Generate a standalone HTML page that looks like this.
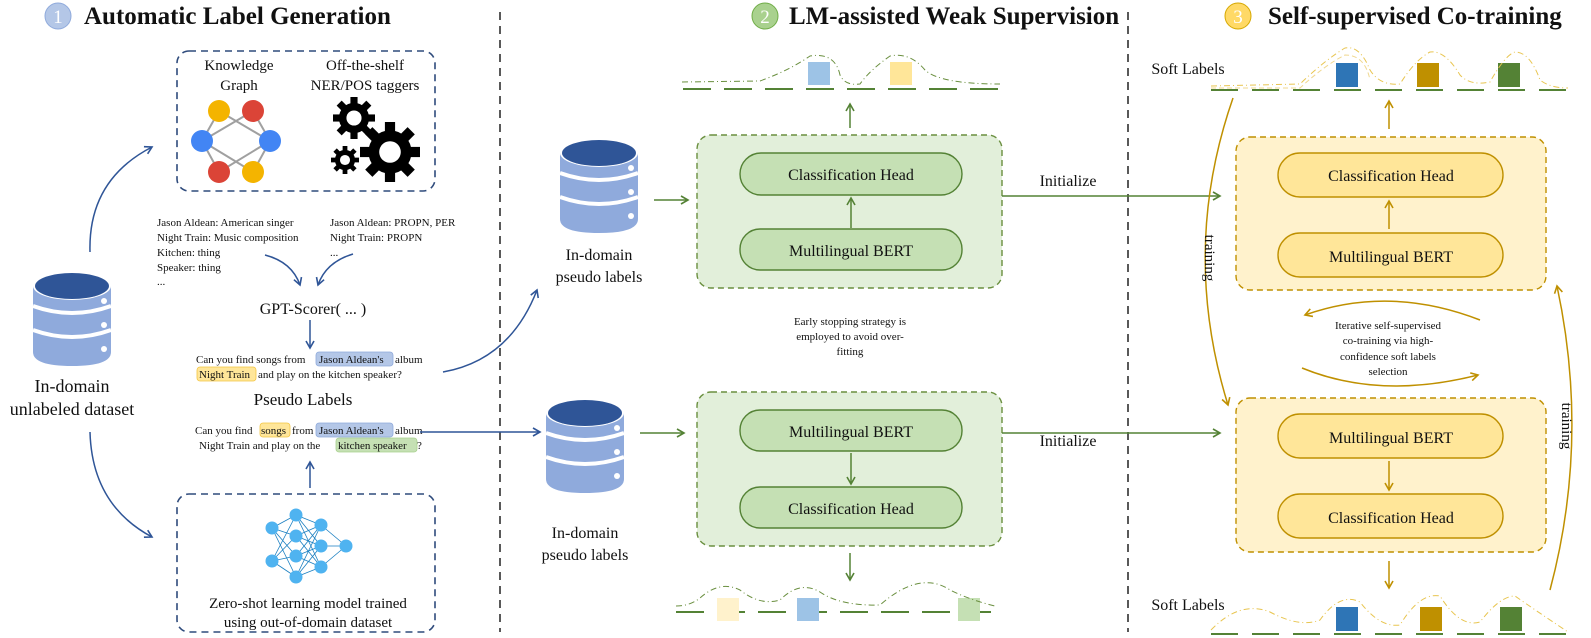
<!DOCTYPE html>
<html><head><meta charset="utf-8"><style>
html,body{margin:0;padding:0;background:#fff}
svg{display:block}
text{font-family:"Liberation Serif","DejaVu Serif",serif;fill:#111}
.t{font-weight:bold;font-size:25px}
.s{font-size:11px}
.m{font-size:16px}
</style></head><body>
<svg width="1591" height="638" viewBox="0 0 1591 638" xmlns="http://www.w3.org/2000/svg">
<defs>
<marker id="ab" markerWidth="10" markerHeight="10" refX="8" refY="5" orient="auto" markerUnits="userSpaceOnUse"><path d="M1,1 L8,5 L1,9" fill="none" stroke="#2f5597" stroke-width="1.6"/></marker>
<marker id="ag" markerWidth="10" markerHeight="10" refX="8" refY="5" orient="auto" markerUnits="userSpaceOnUse"><path d="M1,1 L8,5 L1,9" fill="none" stroke="#548235" stroke-width="1.6"/></marker>
<marker id="ay" markerWidth="10" markerHeight="10" refX="8" refY="5" orient="auto" markerUnits="userSpaceOnUse"><path d="M1,1 L8,5 L1,9" fill="none" stroke="#bf9000" stroke-width="1.6"/></marker>
<g id="db">
<path d="M-39,0 V66 Q-39,80 0,80 Q39,80 39,66 V0 Z" fill="#8faadc"/>
<path d="M-39,20 Q0,34 39,20 M-39,44 Q0,58 39,44" stroke="#fff" stroke-width="4" fill="none"/>
<ellipse cx="0" cy="0" rx="39" ry="14" fill="#fff"/>
<ellipse cx="0" cy="0" rx="37" ry="13" fill="#2f5597"/>
<circle cx="32" cy="15" r="3" fill="#fff"/><circle cx="32" cy="39" r="3" fill="#fff"/><circle cx="32" cy="63" r="3" fill="#fff"/>
</g>
<g id="gear">
<circle r="0.72" fill="#000"/>
<g fill="#000"><rect x="-0.17" y="-1" width="0.34" height="2"/><rect x="-0.17" y="-1" width="0.34" height="2" transform="rotate(45)"/><rect x="-0.17" y="-1" width="0.34" height="2" transform="rotate(90)"/><rect x="-0.17" y="-1" width="0.34" height="2" transform="rotate(135)"/></g>
<circle r="0.36" fill="#fff"/>
</g>
</defs>

<!-- titles -->
<circle cx="58" cy="16" r="13" fill="#b4c7e7" stroke="#8faadc"/><text x="58" y="23" font-size="19" text-anchor="middle" style="fill:#fff">1</text>
<text x="84" y="24" class="t">Automatic Label Generation</text>
<circle cx="765" cy="16" r="13" fill="#a9d18e" stroke="#70ad47"/><text x="765" y="23" font-size="19" text-anchor="middle" style="fill:#fff">2</text>
<text x="789" y="24" class="t">LM-assisted Weak Supervision</text>
<circle cx="1238" cy="16" r="13" fill="#ffd966" stroke="#d6a800"/><text x="1238" y="23" font-size="19" text-anchor="middle" style="fill:#fff">3</text>
<text x="1268" y="24" class="t">Self-supervised Co-training</text>

<line x1="500" y1="12" x2="500" y2="632" stroke="#222" stroke-width="1.5" stroke-dasharray="8,6"/>
<line x1="1128" y1="12" x2="1128" y2="632" stroke="#222" stroke-width="1.5" stroke-dasharray="8,6"/>

<!-- section 1 -->
<rect x="177" y="51" width="258" height="140" rx="12" fill="none" stroke="#2f4b7c" stroke-width="1.6" stroke-dasharray="7,5"/>
<text x="239" y="70" font-size="15" text-anchor="middle">Knowledge</text>
<text x="239" y="90" font-size="15" text-anchor="middle">Graph</text>
<text x="365" y="70" font-size="15" text-anchor="middle">Off-the-shelf</text>
<text x="365" y="90" font-size="15" text-anchor="middle">NER/POS taggers</text>
<g stroke="#a0a0a0" stroke-width="2">
<line x1="219" y1="111" x2="202" y2="141"/><line x1="219" y1="111" x2="270" y2="141"/><line x1="253" y1="111" x2="202" y2="141"/><line x1="253" y1="111" x2="270" y2="141"/>
<line x1="219" y1="172" x2="202" y2="141"/><line x1="219" y1="172" x2="270" y2="141"/><line x1="253" y1="172" x2="202" y2="141"/><line x1="253" y1="172" x2="270" y2="141"/>
</g>
<circle cx="219" cy="111" r="11" fill="#f4b400"/><circle cx="253" cy="111" r="11" fill="#db4437"/>
<circle cx="202" cy="141" r="11" fill="#4285f4"/><circle cx="270" cy="141" r="11" fill="#4285f4"/>
<circle cx="219" cy="172" r="11" fill="#db4437"/><circle cx="253" cy="172" r="11" fill="#f4b400"/>
<use href="#gear" transform="translate(354,118) scale(21)"/>
<use href="#gear" transform="translate(390,152) scale(30)"/>
<use href="#gear" transform="translate(345,160) scale(14)"/>

<text class="s" x="157" y="226">Jason Aldean: American singer</text>
<text class="s" x="157" y="241">Night Train: Music composition</text>
<text class="s" x="157" y="256">Kitchen: thing</text>
<text class="s" x="157" y="271">Speaker: thing</text>
<text class="s" x="157" y="285">...</text>
<text class="s" x="330" y="226">Jason Aldean: PROPN, PER</text>
<text class="s" x="330" y="241">Night Train: PROPN</text>
<text class="s" x="330" y="256">...</text>
<path d="M265,255 Q292,262 300,285" fill="none" stroke="#2f5597" stroke-width="1.5" marker-end="url(#ab)"/>
<path d="M353,254 Q326,262 318,285" fill="none" stroke="#2f5597" stroke-width="1.5" marker-end="url(#ab)"/>
<text x="313" y="314" class="m" text-anchor="middle">GPT-Scorer( ... )</text>
<line x1="310" y1="320" x2="310" y2="348" stroke="#2f5597" stroke-width="1.5" marker-end="url(#ab)"/>

<rect x="316" y="352" width="77" height="14" rx="3" fill="#b4c7e7" stroke="#8faadc" stroke-width="0.8"/>
<rect x="197" y="367" width="59" height="14" rx="3" fill="#ffe699" stroke="#f4c542" stroke-width="0.8"/>
<text class="s" x="196" y="363">Can you find songs from <tspan x="319">Jason Aldean's</tspan><tspan x="395">album</tspan></text>
<text class="s" x="199" y="378">Night Train<tspan x="258">and play on the kitchen speaker?</tspan></text>
<text x="303" y="405" font-size="17" text-anchor="middle">Pseudo Labels</text>
<rect x="260" y="423" width="30" height="14" rx="3" fill="#ffe699" stroke="#f4c542" stroke-width="0.8"/>
<rect x="316" y="423" width="77" height="14" rx="3" fill="#b4c7e7" stroke="#8faadc" stroke-width="0.8"/>
<rect x="336" y="438" width="81" height="14" rx="3" fill="#c5e0b4" stroke="#a9d18e" stroke-width="0.8"/>
<text class="s" x="195" y="434">Can you find <tspan x="261">songs</tspan><tspan x="292">from</tspan><tspan x="319">Jason Aldean's</tspan><tspan x="395">album</tspan></text>
<text class="s" x="199" y="449">Night Train and play on the <tspan x="338">kitchen speaker</tspan><tspan x="417">?</tspan></text>
<line x1="310" y1="488" x2="310" y2="462" stroke="#2f5597" stroke-width="1.5" marker-end="url(#ab)"/>

<rect x="177" y="494" width="258" height="138" rx="12" fill="none" stroke="#2f4b7c" stroke-width="1.6" stroke-dasharray="7,5"/>
<g stroke="#1a7fc1" stroke-width="0.8">
<path d="M272,528 L296,515 M272,528 L296,536 M272,528 L296,556 M272,528 L296,577 M272,561 L296,515 M272,561 L296,536 M272,561 L296,556 M272,561 L296,577 M296,515 L321,525 M296,515 L321,546 M296,515 L321,567 M296,536 L321,525 M296,536 L321,546 M296,536 L321,567 M296,556 L321,525 M296,556 L321,546 M296,556 L321,567 M296,577 L321,525 M296,577 L321,546 M296,577 L321,567 M321,525 L346,546 M321,546 L346,546 M321,567 L346,546"/>
</g>
<g fill="#4fb3f0">
<circle cx="272" cy="528" r="6.5"/><circle cx="272" cy="561" r="6.5"/>
<circle cx="296" cy="515" r="6.5"/><circle cx="296" cy="536" r="6.5"/><circle cx="296" cy="556" r="6.5"/><circle cx="296" cy="577" r="6.5"/>
<circle cx="321" cy="525" r="6.5"/><circle cx="321" cy="546" r="6.5"/><circle cx="321" cy="567" r="6.5"/>
<circle cx="346" cy="546" r="6.5"/>
</g>
<text x="308" y="608" font-size="15" text-anchor="middle">Zero-shot learning model trained</text>
<text x="308" y="627" font-size="15" text-anchor="middle">using out-of-domain dataset</text>

<use href="#db" x="72" y="286"/>
<text x="72" y="392" font-size="18" text-anchor="middle">In-domain</text>
<text x="72" y="415" font-size="18" text-anchor="middle">unlabeled dataset</text>
<path d="M90,252 Q88,180 152,147" fill="none" stroke="#2f5597" stroke-width="1.5" marker-end="url(#ab)"/>
<path d="M90,432 Q92,505 152,537" fill="none" stroke="#2f5597" stroke-width="1.5" marker-end="url(#ab)"/>
<path d="M443,372 Q510,360 537,290" fill="none" stroke="#2f5597" stroke-width="1.5" marker-end="url(#ab)"/>
<line x1="420" y1="432" x2="540" y2="432" stroke="#2f5597" stroke-width="1.5" marker-end="url(#ab)"/>

<!-- section 2 -->
<use href="#db" x="599" y="153"/>
<text x="599" y="260" font-size="16" text-anchor="middle">In-domain</text>
<text x="599" y="282" font-size="16" text-anchor="middle">pseudo labels</text>
<use href="#db" x="585" y="413"/>
<text x="585" y="538" font-size="16" text-anchor="middle">In-domain</text>
<text x="585" y="560" font-size="16" text-anchor="middle">pseudo labels</text>
<line x1="654" y1="200" x2="688" y2="200" stroke="#548235" stroke-width="1.5" marker-end="url(#ag)"/>
<line x1="640" y1="433" x2="684" y2="433" stroke="#548235" stroke-width="1.5" marker-end="url(#ag)"/>

<rect x="697" y="135" width="305" height="153" rx="14" fill="#e2efda" stroke="#6a8f3f" stroke-width="1.4" stroke-dasharray="6,4"/>
<rect x="740" y="153" width="222" height="42" rx="21" fill="#c5e0b4" stroke="#548235" stroke-width="1.4"/>
<text x="851" y="180" class="m" text-anchor="middle">Classification Head</text>
<line x1="851" y1="228" x2="851" y2="198" stroke="#548235" stroke-width="1.5" marker-end="url(#ag)"/>
<rect x="740" y="229" width="222" height="41" rx="20" fill="#c5e0b4" stroke="#548235" stroke-width="1.4"/>
<text x="851" y="256" class="m" text-anchor="middle">Multilingual BERT</text>

<text class="s" x="850" y="325" text-anchor="middle">Early stopping strategy is</text>
<text class="s" x="850" y="340" text-anchor="middle">employed to avoid over-</text>
<text class="s" x="850" y="355" text-anchor="middle">fitting</text>

<rect x="697" y="392" width="305" height="154" rx="14" fill="#e2efda" stroke="#6a8f3f" stroke-width="1.4" stroke-dasharray="6,4"/>
<rect x="740" y="410" width="222" height="41" rx="20" fill="#c5e0b4" stroke="#548235" stroke-width="1.4"/>
<text x="851" y="437" class="m" text-anchor="middle">Multilingual BERT</text>
<line x1="851" y1="453" x2="851" y2="484" stroke="#548235" stroke-width="1.5" marker-end="url(#ag)"/>
<rect x="740" y="487" width="222" height="41" rx="20" fill="#c5e0b4" stroke="#548235" stroke-width="1.4"/>
<text x="851" y="514" class="m" text-anchor="middle">Classification Head</text>

<line x1="850" y1="128" x2="850" y2="104" stroke="#548235" stroke-width="1.5" marker-end="url(#ag)"/>
<line x1="683" y1="89" x2="1000" y2="89" stroke="#548235" stroke-width="2" stroke-dasharray="28,13"/>
<rect x="808" y="62" width="22" height="23" fill="#9dc3e6"/>
<rect x="890" y="62" width="22" height="23" fill="#ffe699"/>
<path d="M682,82 L760,81 Q790,70 810,56 Q835,52 840,75 Q845,86 860,84 Q870,70 890,56 Q910,52 925,70 Q940,84 1000,84" fill="none" stroke="#6a8f3f" stroke-width="1" stroke-dasharray="6,3,1,3"/>

<line x1="850" y1="553" x2="850" y2="580" stroke="#548235" stroke-width="1.5" marker-end="url(#ag)"/>
<line x1="676" y1="612" x2="1000" y2="612" stroke="#548235" stroke-width="2" stroke-dasharray="28,13"/>
<rect x="717" y="598" width="22" height="23" fill="#fff2cc"/>
<rect x="797" y="598" width="22" height="23" fill="#9dc3e6"/>
<rect x="958" y="598" width="22" height="23" fill="#c5e0b4"/>
<path d="M676,606 Q690,606 700,598 Q720,580 740,590 Q760,606 780,600 Q800,580 820,592 Q840,606 880,605 Q920,570 950,590 Q970,600 995,606" fill="none" stroke="#6a8f3f" stroke-width="1" stroke-dasharray="6,3,1,3"/>

<text x="1068" y="186" class="m" text-anchor="middle">Initialize</text>
<line x1="1002" y1="196" x2="1220" y2="196" stroke="#548235" stroke-width="1.5" marker-end="url(#ag)"/>
<text x="1068" y="446" class="m" text-anchor="middle">Initialize</text>
<line x1="1002" y1="433" x2="1220" y2="433" stroke="#548235" stroke-width="1.5" marker-end="url(#ag)"/>

<!-- section 3 -->
<text x="1188" y="74" class="m" text-anchor="middle">Soft Labels</text>
<line x1="1211" y1="90" x2="1568" y2="90" stroke="#548235" stroke-width="2" stroke-dasharray="27,14"/>
<rect x="1336" y="63" width="22" height="24" fill="#2e75b6"/>
<rect x="1417" y="63" width="22" height="24" fill="#bf9000"/>
<rect x="1498" y="63" width="22" height="24" fill="#548235"/>
<path d="M1211,86 L1300,84 Q1325,60 1345,48 Q1360,45 1370,70 Q1380,86 1400,84 Q1415,60 1430,52 Q1445,50 1460,75 Q1470,86 1490,82 Q1505,55 1515,52 Q1530,52 1540,80 Q1550,88 1568,88" fill="none" stroke="#e8c550" stroke-width="1" stroke-dasharray="6,3,1,3"/>
<path d="M1211,88 L1300,88 Q1325,65 1345,55 Q1365,55 1370,80" fill="none" stroke="#f0d890" stroke-width="1" stroke-dasharray="5,3"/>

<rect x="1236" y="137" width="310" height="153" rx="14" fill="#fff2cc" stroke="#bf9000" stroke-width="1.4" stroke-dasharray="6,4"/>
<rect x="1278" y="153" width="225" height="44" rx="22" fill="#ffe699" stroke="#bf9000" stroke-width="1.4"/>
<text x="1391" y="181" class="m" text-anchor="middle">Classification Head</text>
<line x1="1389" y1="229" x2="1389" y2="201" stroke="#bf9000" stroke-width="1.5" marker-end="url(#ay)"/>
<rect x="1278" y="233" width="225" height="44" rx="22" fill="#ffe699" stroke="#bf9000" stroke-width="1.4"/>
<text x="1391" y="262" class="m" text-anchor="middle">Multilingual BERT</text>
<line x1="1389" y1="129" x2="1389" y2="101" stroke="#bf9000" stroke-width="1.5" marker-end="url(#ay)"/>

<path d="M1480,320 Q1390,285 1305,315" fill="none" stroke="#bf9000" stroke-width="1.5" marker-end="url(#ay)"/>
<text class="s" x="1388" y="329" text-anchor="middle">Iterative self-supervised</text>
<text class="s" x="1388" y="344" text-anchor="middle">co-training via high-</text>
<text class="s" x="1388" y="360" text-anchor="middle">confidence soft labels</text>
<text class="s" x="1388" y="375" text-anchor="middle">selection</text>
<path d="M1302,368 Q1380,400 1478,375" fill="none" stroke="#bf9000" stroke-width="1.5" marker-end="url(#ay)"/>

<rect x="1236" y="398" width="310" height="154" rx="14" fill="#fff2cc" stroke="#bf9000" stroke-width="1.4" stroke-dasharray="6,4"/>
<rect x="1278" y="414" width="225" height="44" rx="22" fill="#ffe699" stroke="#bf9000" stroke-width="1.4"/>
<text x="1391" y="443" class="m" text-anchor="middle">Multilingual BERT</text>
<line x1="1389" y1="461" x2="1389" y2="490" stroke="#bf9000" stroke-width="1.5" marker-end="url(#ay)"/>
<rect x="1278" y="494" width="225" height="44" rx="22" fill="#ffe699" stroke="#bf9000" stroke-width="1.4"/>
<text x="1391" y="523" class="m" text-anchor="middle">Classification Head</text>
<line x1="1389" y1="561" x2="1389" y2="588" stroke="#bf9000" stroke-width="1.5" marker-end="url(#ay)"/>

<text x="1188" y="610" class="m" text-anchor="middle">Soft Labels</text>
<line x1="1211" y1="634" x2="1568" y2="634" stroke="#548235" stroke-width="2" stroke-dasharray="27,14"/>
<rect x="1336" y="607" width="22" height="24" fill="#2e75b6"/>
<rect x="1420" y="607" width="22" height="24" fill="#bf9000"/>
<rect x="1500" y="607" width="22" height="24" fill="#548235"/>
<path d="M1211,630 Q1240,600 1270,612 Q1300,628 1320,620 Q1340,592 1360,602 Q1380,628 1400,625 Q1420,592 1440,596 Q1460,628 1480,622 Q1500,596 1515,596 Q1535,610 1568,632" fill="none" stroke="#e8c550" stroke-width="1" stroke-dasharray="6,3,1,3"/>

<path d="M1233,98 Q1180,250 1228,405" fill="none" stroke="#bf9000" stroke-width="1.5" marker-end="url(#ay)"/>
<text x="1205" y="258" font-size="15" transform="rotate(90 1205 258)" text-anchor="middle">training</text>
<path d="M1550,590 Q1590,440 1557,286" fill="none" stroke="#bf9000" stroke-width="1.5" marker-end="url(#ay)"/>
<text x="1562" y="426" font-size="15" transform="rotate(90 1562 426)" text-anchor="middle">training</text>
</svg>
</body></html>
